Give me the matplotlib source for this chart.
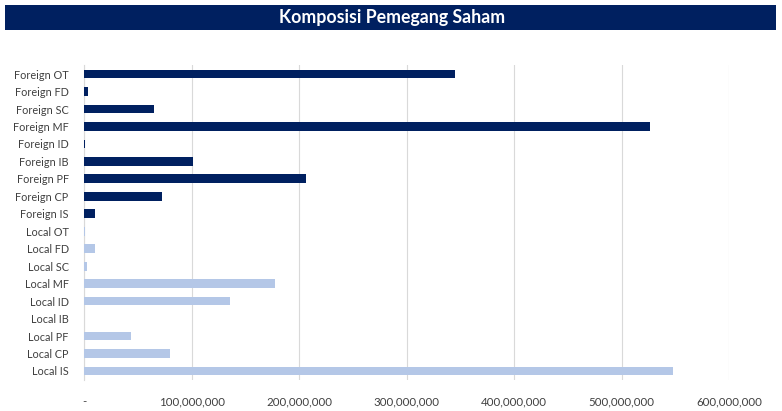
import matplotlib.pyplot as plt
from matplotlib.patches import Rectangle
from matplotlib.ticker import FuncFormatter

categories = ["Foreign OT", "Foreign FD", "Foreign SC", "Foreign MF", "Foreign ID",
              "Foreign IB", "Foreign PF", "Foreign CP", "Foreign IS",
              "Local OT", "Local FD", "Local SC", "Local MF", "Local ID",
              "Local IB", "Local PF", "Local CP", "Local IS"]
values = [345e6, 4e6, 65e6, 526e6, 1.2e6, 101e6, 206e6, 73e6, 10e6,
          0.6e6, 10e6, 3e6, 178e6, 136e6, 0, 44e6, 80e6, 548e6]
is_foreign = [c.startswith("Foreign") for c in categories]

dark = "#002060"
light = "#B4C7E7"

plt.rcParams['font.family'] = ['Lato', 'DejaVu Sans']

fig = plt.figure(figsize=(7.82, 4.11), dpi=100)
ax = fig.add_axes([0.1074, 0.0762, 0.9325 - 0.1074, 0.841 - 0.0762])

colors = [dark if f else light for f in is_foreign]
ax.barh(range(len(categories)), values, height=0.5, color=colors, zorder=3)

ax.set_yticks(range(len(categories)))
ax.set_yticklabels(categories)
ax.set_ylim(len(categories) - 0.5, -0.5)
ax.set_xlim(0, 600e6)
ax.set_xticks([i * 100e6 for i in range(7)])
ax.xaxis.set_major_formatter(FuncFormatter(lambda v, p: "-" if v == 0 else f"{v:,.0f}"))

ax.grid(axis="x", color="#D9D9D9", linewidth=0.8, zorder=0)
for s in ["top", "right", "bottom"]:
    ax.spines[s].set_visible(False)
ax.spines["left"].set_color("#D9D9D9")
ax.spines["left"].set_linewidth(0.8)
ax.tick_params(axis="both", length=0, colors="#404040")
ax.tick_params(axis="x", pad=12, labelsize=8.3)
ax.tick_params(axis="y", pad=11, labelsize=7.8)

# title banner
fig.patches.append(Rectangle((5 / 782, 1 - 30 / 411), 771 / 782, 25 / 411,
                             transform=fig.transFigure, facecolor=dark,
                             edgecolor="none"))
fig.text(392 / 782, 1 - 18 / 411, "Komposisi Pemegang Saham", color="white",
         fontsize=12.8, fontweight="bold", ha="center", va="center")

fig.savefig("out.png", dpi=100)
